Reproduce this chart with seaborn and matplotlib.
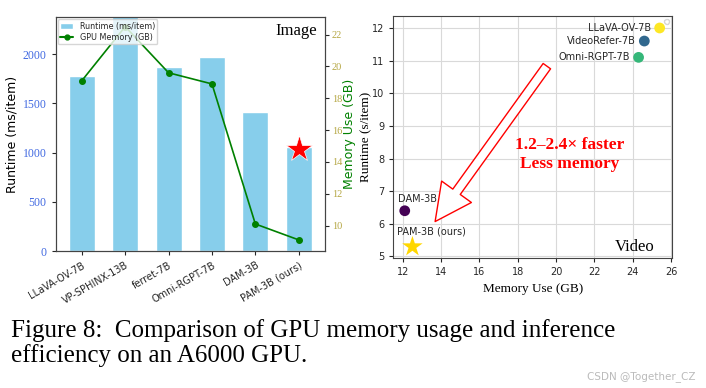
import numpy as np
import pandas as pd
import matplotlib
matplotlib.use("Agg")
import matplotlib.pyplot as plt
from matplotlib.lines import Line2D
from matplotlib.patches import Patch
import seaborn as sns

# Image panel data
models = ['LLaVA-OV-7B', 'VP-SPHINX-13B', 'ferret-7B', 'Omni-RGPT-7B', 'DAM-3B', 'PAM-3B (ours)']
runtime_ms = [1780, 2500, 1872, 1973, 1412, 1054]
memory_gb = [19.1, 22.5, 19.6, 18.9, 10.1, 9.1]

# Video panel data
video_models = ['LLaVA-OV-7B', 'VideoRefer-7B', 'Omni-RGPT-7B', 'DAM-3B']
video_mem = [25.4, 24.6, 24.3, 12.1]
video_runtime = [12.0, 11.6, 11.1, 6.4]
video_colors = ['#fde725', '#31688e', '#35b779', '#440154']
ours_mem = [12.5]
ours_runtime = [5.3]

sns.set_style("white")
serif = ['Liberation Serif', 'DejaVu Serif']

fig = plt.figure(figsize=(7.06, 3.88), dpi=100)

# ---------------- left: image runtime / memory
ax1 = fig.add_axes([0.079, 0.353, 0.381, 0.603])
df = pd.DataFrame({'model': models, 'runtime': runtime_ms})
sns.barplot(data=df, x='model', y='runtime', color='skyblue', saturation=1,
            width=0.6, edgecolor='white', linewidth=1, ax=ax1)
ax1.set_ylim(0, 2376)
ax1.set_xlim(-0.6, 5.6)
ax1.set_xlabel('')
ax1.set_ylabel('Runtime (ms/item)', fontsize=9, labelpad=3, color='black')
ax1.set_yticks([0, 500, 1000, 1500, 2000])
ax1.tick_params(axis='y', length=3, width=0.8, direction='out', left=True,
                labelsize=8.5, labelcolor='royalblue', labelfontfamily='Liberation Serif')
ax1.tick_params(axis='x', length=3, width=0.8, bottom=True)
ax1.set_xticks(range(len(models)))
ax1.set_xticklabels(models, rotation=30, ha='right', fontsize=7, rotation_mode='anchor')
for sp in ax1.spines.values():
    sp.set_color('#444444')

ax2 = ax1.twinx()
ax2.plot(range(len(models)), memory_gb, color='green', marker='o', markersize=4, linewidth=1.2)
ax2.plot([5], [14.8], marker='*', color='red', markersize=20, markeredgecolor='white',
         markeredgewidth=0.5, linestyle='none')
ax2.set_ylim(8.4, 23.1)
ax2.set_yticks([10, 12, 14, 16, 18, 20, 22])
ax2.set_ylabel('Memory Use (GB)', color='green', fontsize=9, labelpad=1)
ax2.tick_params(axis='y', length=3, width=0.8, right=True, pad=2,
                labelsize=7.5, labelcolor='#b5a642', labelfontfamily='Liberation Serif')
for sp in ax2.spines.values():
    sp.set_color('#444444')

handles = [Patch(facecolor='skyblue', label='Runtime (ms/item)'),
           Line2D([0], [0], color='green', marker='o', markersize=3.5, label='GPU Memory (GB)')]
ax2.legend(handles=handles, loc='upper left', fontsize=5.8, frameon=True,
           borderaxespad=0.25, handlelength=1.6, borderpad=0.3, labelspacing=0.3)
ax2.text(0.97, 0.94, 'Image', transform=ax2.transAxes, ha='right', va='center',
         fontsize=12, family=serif, color='black')

# ---------------- right: video scatter
ax3 = fig.add_axes([0.557, 0.334, 0.395, 0.625])
vdf = pd.DataFrame({'mem': video_mem, 'rt': video_runtime, 'model': video_models})
sns.scatterplot(data=vdf, x='mem', y='rt', hue='model', palette=video_colors,
                s=60, edgecolor='none', legend=False, ax=ax3, zorder=3)
sns.scatterplot(x=ours_mem, y=ours_runtime, marker='*', s=240, color='gold',
                edgecolor='none', legend=False, ax=ax3, zorder=3)
for m, x, y in zip(video_models, video_mem, video_runtime):
    if m == 'DAM-3B':
        ax3.text(x - 0.35, y + 0.22, m, fontsize=7, ha='left', va='bottom')
    else:
        ax3.text(x - 0.45, y, m, fontsize=7, ha='right', va='center')
ax3.text(11.7, 5.75, 'PAM-3B (ours)', fontsize=7, ha='left', va='center')

ax3.set_xlim(11.5, 26.05)
ax3.set_ylim(4.94, 12.37)
ax3.set_xticks(range(12, 27, 2))
ax3.set_yticks(range(5, 13))
ax3.tick_params(labelsize=7, length=3, width=0.8, bottom=True, left=True)
ax3.grid(True, color='#d9d9d9', linewidth=0.8)
ax3.set_axisbelow(True)
ax3.set_xlabel('Memory Use (GB)', fontsize=9.5, family=serif, color='black')
ax3.set_ylabel('Runtime (s/item)', fontsize=9.5, family=serif, labelpad=0, color='black')
for sp in ax3.spines.values():
    sp.set_color('#444444')

ax3.annotate('', xy=(13.6, 6.0), xytext=(19.6, 10.9),
             arrowprops=dict(arrowstyle='simple,head_length=1.2,head_width=1.2,tail_width=0.3',
                             fc='white', ec='red', lw=1.0, mutation_scale=22))
ax3.text(20.7, 8.13, '1.2–2.4× faster\nLess memory', color='red', fontsize=12.5,
         fontweight='bold', family=serif, ha='center', va='center', linespacing=1.25)
ax3.text(24.1, 5.3, 'Video', fontsize=12, family=serif, ha='center', va='center', color='black')
ax3.legend(handles=[], loc='upper right', borderaxespad=0.2, borderpad=0.2)

# caption
fig.text(0.015, 0.147, 'Figure 8:  Comparison of GPU memory usage and inference',
         fontsize=18, family=serif, ha='left', va='center', color='black')
fig.text(0.015, 0.085, 'efficiency on an A6000 GPU.',
         fontsize=18, family=serif, ha='left', va='center', color='black')
fig.text(0.985, 0.03, 'CSDN @Together_CZ', fontsize=7.5, color='#bbbbbb', ha='right', va='center')

fig.savefig('out.png', dpi=100)
